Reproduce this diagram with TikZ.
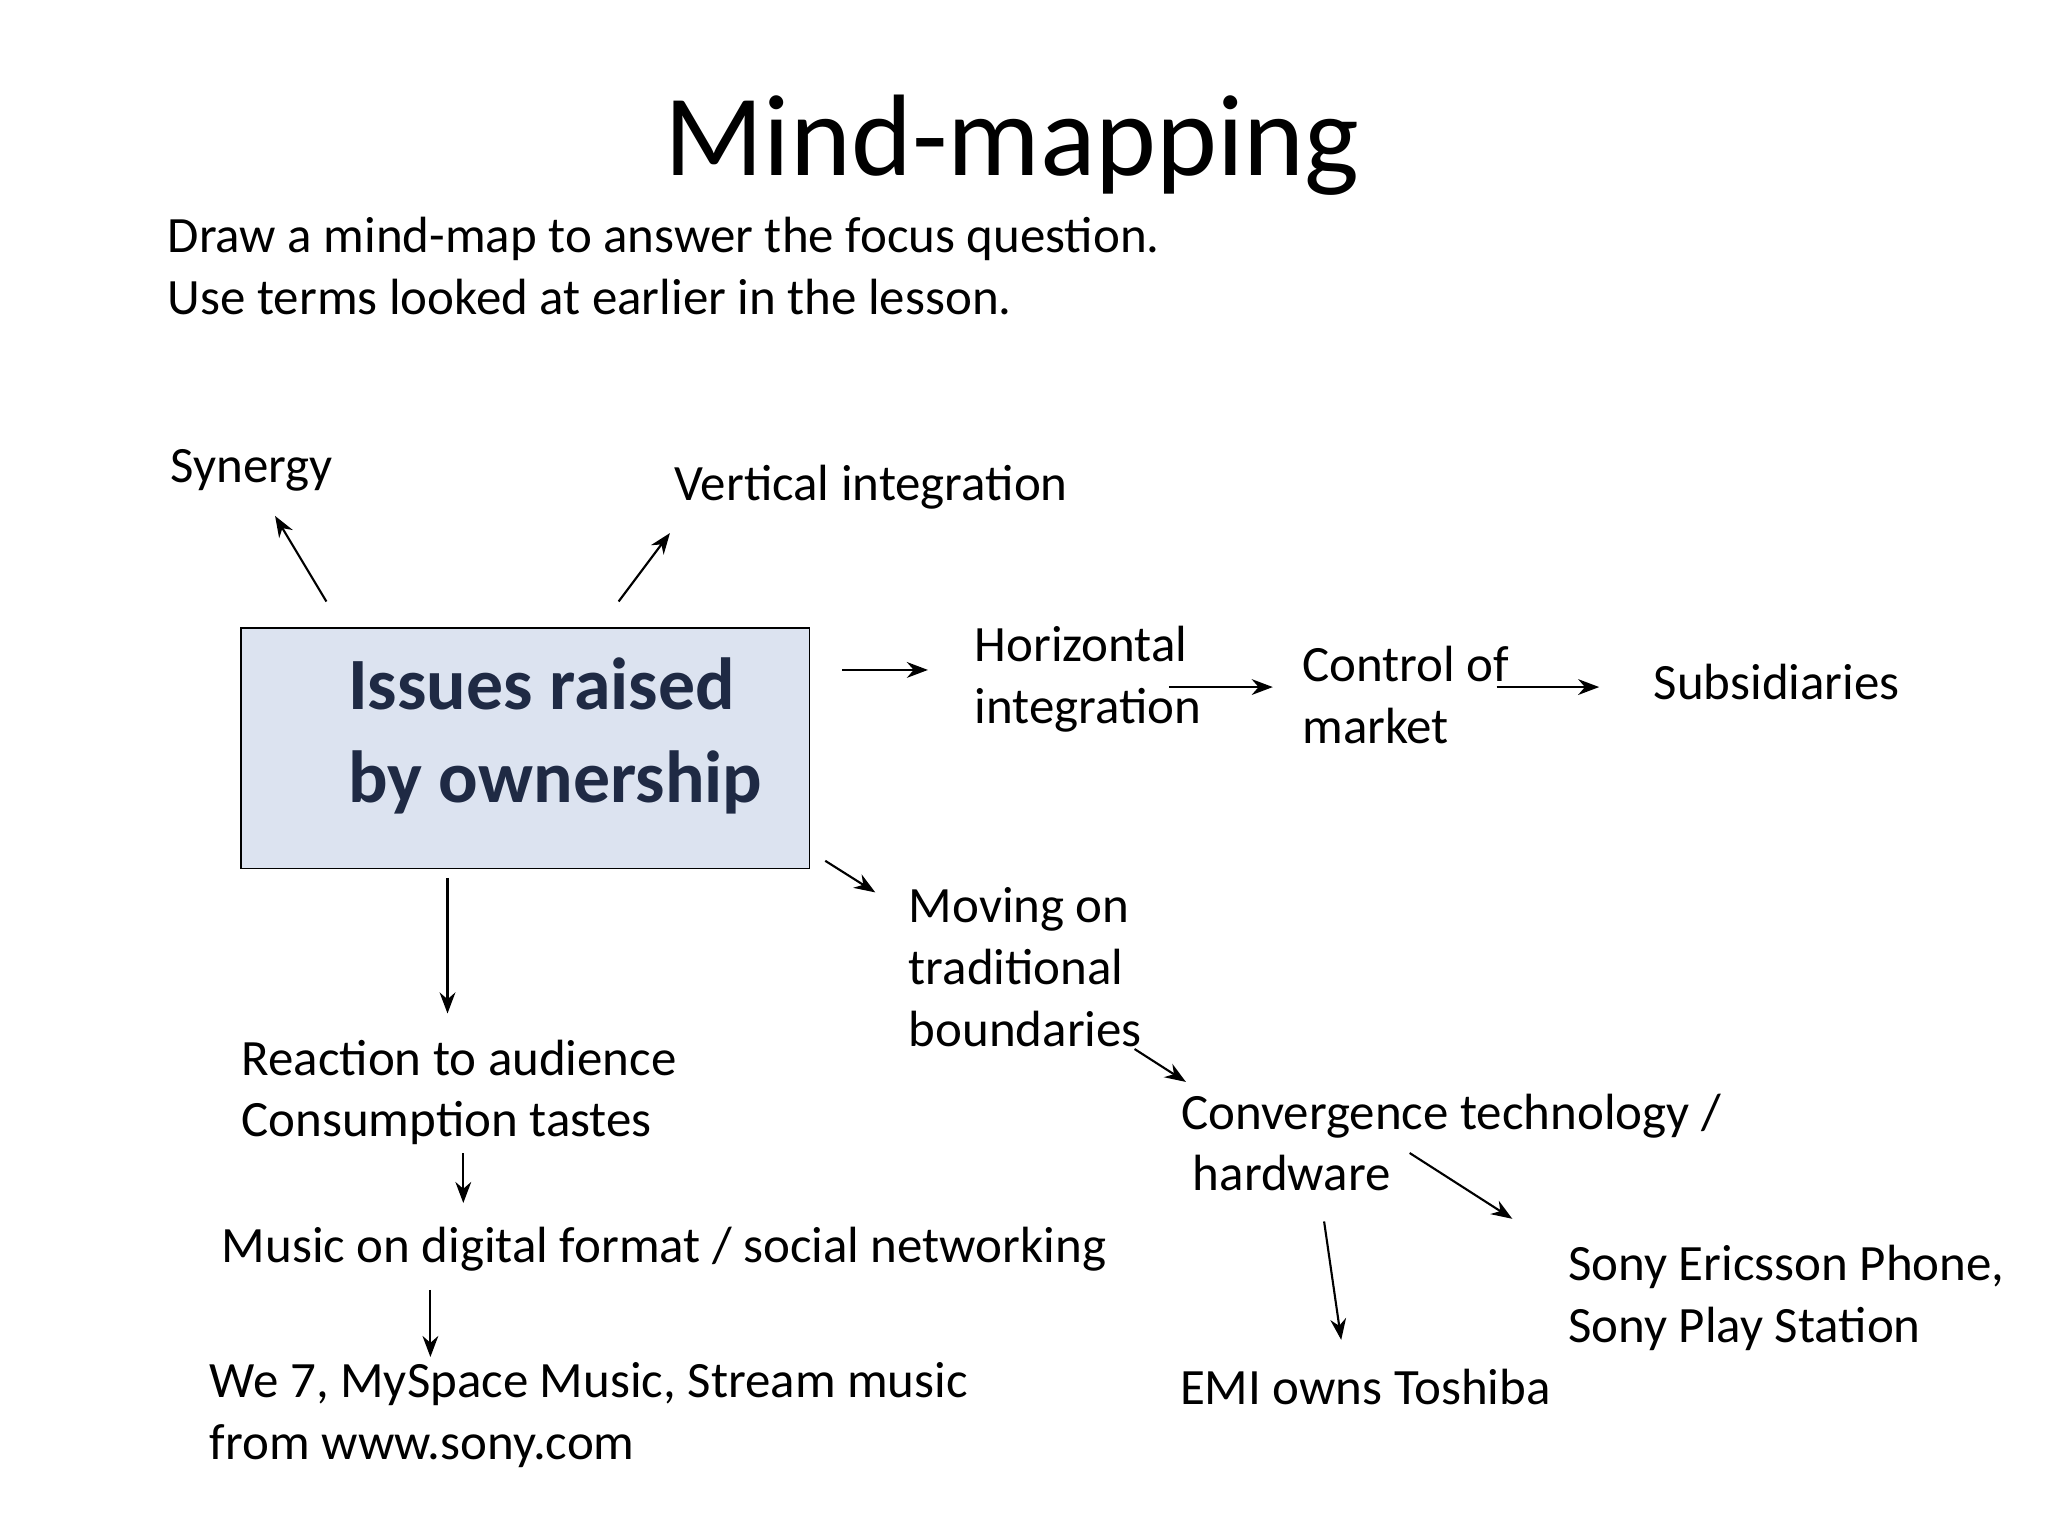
\documentclass[tikz,border=0pt]{standalone}
\usepackage{fontspec}
\setmainfont{Carlito}
\usetikzlibrary{arrows.meta}
\definecolor{boxfill}{HTML}{DCE3F0}
\definecolor{navy}{HTML}{1F2A44}
\tikzset{
  txt/.style={anchor=west, align=left, inner sep=0pt,
    font=\fontsize{14.5}{17.6}\selectfont},
  link/.style={-{Stealth[length=6pt,width=4.5pt]}, semithick}
}
\begin{document}
\begin{tikzpicture}[x=0.013162cm, y=-0.013162cm]
        % page frame
        \useasboundingbox (0,0) rectangle (1556,1167);
        
        % title and task
        \node[inner sep=0pt, font=\fontsize{33}{40}\selectfont] (title) at (769,110) {Mind-mapping};
        \node[txt] (task) at (127,202) {Draw a mind-map to answer the focus question.\\Use terms looked at earlier in the lesson.};
        
        % central box
        \draw[fill=boxfill] (183,477) rectangle (615,660);
        \node[anchor=west, align=left, inner sep=0pt, text=navy,
          font=\bfseries\fontsize{21}{26.5}\selectfont] (issues) at (264,559) {Issues raised\\by ownership};
        
        % branch labels
        \node[txt] (synergy) at (129,357) {Synergy};
        \node[txt] (vertical) at (512,370) {Vertical integration};
        \node[txt] (horizontal) at (740,516) {Horizontal\\integration};
        \node[txt] (control) at (989,528) {Control of\\market};
        \node[txt] (subsid) at (1256,518) {Subsidiaries};
        \node[txt] (moving) at (690,735) {Moving on\\traditional\\boundaries};
        \node[txt] (reaction) at (183,830) {Reaction to audience\\Consumption tastes};
        \node[txt] (converge) at (897,868) {Convergence technology /\\\ hardware};
        \node[txt] (music) at (168,949) {Music on digital format / social networking};
        \node[txt] (we7) at (159,1075) {We 7, MySpace Music, Stream music\\from www.sony.com};
        \node[txt] (emi) at (896,1054) {EMI owns Toshiba};
        \node[txt] (sonyeric) at (1191,986) {Sony Ericsson Phone,\\Sony Play Station};
        
        % arrow ends
        \coordinate (a1) at (248,457); \coordinate (b1) at (209,392);
        \coordinate (a2) at (470,457); \coordinate (b2) at (509,405);
        \coordinate (a3) at (640,509); \coordinate (b3) at (705,509);
        \coordinate (a4) at (888,522); \coordinate (b4) at (967,522);
        \coordinate (a5) at (1137,522); \coordinate (b5) at (1215,522);
        \coordinate (a6) at (627,654); \coordinate (b6) at (665,678);
        \coordinate (a7) at (340,667); \coordinate (b7) at (340,770);
        \coordinate (a8) at (862,797); \coordinate (b8) at (901,822);
        \coordinate (a9) at (352,876); \coordinate (b9) at (352,914);
        \coordinate (a10) at (327,980); \coordinate (b10) at (327,1031);
        \coordinate (a11) at (1006,928); \coordinate (b11) at (1019,1018);
        \coordinate (a12) at (1071,876); \coordinate (b12) at (1149,926);
        
        % arrows
        \foreach \i in {1,...,12}
          \draw[link] (a\i) -- (b\i);
    \end{tikzpicture}
\end{document}
